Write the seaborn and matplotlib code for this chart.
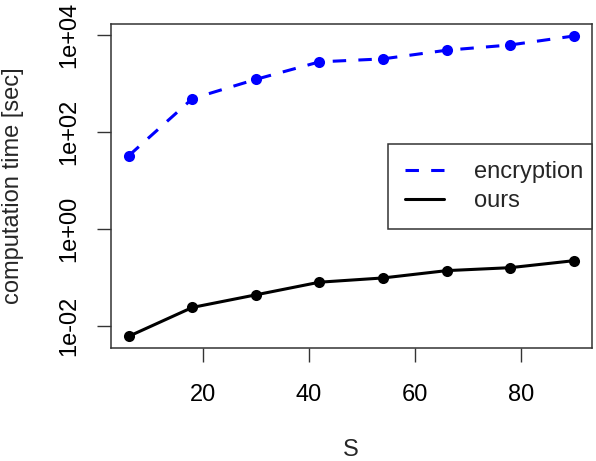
import numpy as np
import pandas as pd
import matplotlib
matplotlib.use("Agg")
import matplotlib.pyplot as plt
from matplotlib.lines import Line2D
import seaborn as sns

# ---- data ----
S_values = [6, 18, 30, 42, 54, 66, 78, 90]
encryption_time = [32.4, 482, 1202, 2754, 3170, 4775, 6125, 9360]
ours_time = [0.00625, 0.0245, 0.0445, 0.081, 0.099, 0.14, 0.161, 0.224]
series_names = ["encryption", "ours"]
x_ticks = [20, 40, 60, 80]
y_ticks = [1e-2, 1e0, 1e2, 1e4]
y_tick_labels = ["1e-02", "1e+00", "1e+02", "1e+04"]
x_label = "S"
y_label = "computation time [sec]"

df = pd.DataFrame({
    "S": S_values * 2,
    "time": encryption_time + ours_time,
    "method": [series_names[0]] * len(S_values) + [series_names[1]] * len(S_values),
})

sns.set_style("white")
plt.rcParams["font.family"] = ["Liberation Sans", "DejaVu Sans"]

fig = plt.figure(figsize=(5.96, 4.61), dpi=100)
ax = fig.add_axes([111 / 596, 1 - 348.3 / 461, 480.5 / 596, 324.3 / 461])

lw = 2.2
ms = 8.0
colors = {"encryption": "#0000ff", "ours": "#000000"}
dash_style = (0, (4.4, 4.0))

sns.lineplot(data=df[df["method"] == "encryption"], x="S", y="time", ax=ax,
             color=colors["encryption"], linewidth=lw, marker="o", markersize=ms,
             markeredgewidth=0, linestyle=dash_style, legend=False,
             errorbar=None, estimator=None)
sns.lineplot(data=df[df["method"] == "ours"], x="S", y="time", ax=ax,
             color=colors["ours"], linewidth=lw, marker="o", markersize=ms,
             markeredgewidth=0, linestyle="-", legend=False,
             errorbar=None, estimator=None)
for ln in ax.get_lines():
    ln.set_dash_capstyle("butt")

ax.set_yscale("log")
xmin, xmax = min(S_values), max(S_values)
xr = xmax - xmin
ax.set_xlim(xmin - 0.04 * xr, xmax + 0.04 * xr)
lo = np.log10(min(ours_time)); hi = np.log10(max(encryption_time))
lr = hi - lo
ax.set_ylim(10 ** (lo - 0.04 * lr), 10 ** (hi + 0.04 * lr))

ax.set_xticks(x_ticks)
ax.set_xticklabels([str(t) for t in x_ticks])
ax.set_yticks(y_ticks)
ax.set_yticklabels(y_tick_labels, rotation=90, va="center")
ax.yaxis.set_minor_locator(matplotlib.ticker.NullLocator())

fs = 17
ax.tick_params(axis="both", which="major", direction="out", length=10,
               width=1.0, color="#333333", labelsize=fs, labelcolor="black")
ax.tick_params(axis="x", pad=16)
ax.tick_params(axis="y", pad=12)
ax.xaxis.set_ticks_position("bottom")
ax.yaxis.set_ticks_position("left")

for sp in ax.spines.values():
    sp.set_visible(True)
    sp.set_linewidth(1.1)
    sp.set_color("#333333")

ax.set_xlabel(x_label, fontsize=fs)
ax.set_ylabel(y_label, fontsize=fs)
ax.xaxis.label.set_va("center")
ax.yaxis.label.set_va("center")
ax.xaxis.set_label_coords(0.5, (348.3 - 449.5) / 324.3)
ax.yaxis.set_label_coords((13.3 - 111) / 480.5, 0.5)

handles = [
    Line2D([0], [0], color=colors["encryption"], linewidth=lw, linestyle=dash_style,
           dash_capstyle="butt"),
    Line2D([0], [0], color=colors["ours"], linewidth=lw, linestyle="-"),
]
x0 = (388 - 111) / 480.5
y0 = (348.3 - 229.5) / 324.3
y1 = (348.3 - 144) / 324.3
leg = ax.legend(handles, series_names, loc="center left",
                bbox_to_anchor=(x0, y0, 1 - x0, y1 - y0), mode="expand",
                borderaxespad=0, fontsize=fs, frameon=True, fancybox=False,
                framealpha=1, edgecolor="#333333", handlelength=1.67,
                handletextpad=1.25, labelspacing=0.3, borderpad=0.72)
leg.get_frame().set_linewidth(1.1)

fig.savefig("out.png", dpi=100)
